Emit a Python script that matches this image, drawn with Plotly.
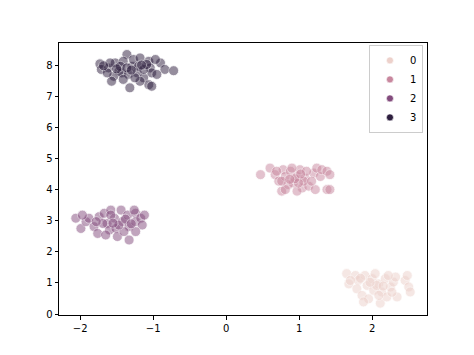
import numpy as np
import plotly.graph_objects as go

# ---- data ----
x0 = [1.65, 1.68, 1.77, 1.81, 1.79, 1.86, 1.90, 1.93, 1.95, 2.00, 2.02, 2.04, 2.09, 2.13, 2.11,
      2.18, 2.20, 2.25, 2.29, 2.32, 2.34, 2.45, 2.48, 2.50, 2.52, 1.70, 2.06, 1.88, 2.09, 2.22,
      1.97, 2.15, 1.84, 2.27]
y0 = [1.30, 0.97, 1.24, 1.08, 0.81, 0.60, 1.24, 0.92, 0.49, 1.14, 0.76, 1.30, 0.97, 0.71, 0.35,
      1.14, 0.55, 0.87, 1.03, 1.19, 0.55, 1.08, 1.24, 0.87, 0.71, 1.08, 0.92, 0.39, 0.60, 1.24,
      1.02, 0.90, 1.15, 0.70]

x1 = [0.47, 0.60, 0.67, 0.72, 0.76, 0.78, 0.81, 0.88, 0.92, 0.97, 1.01, 1.04, 1.08, 1.13, 1.20,
      1.24, 1.29, 1.31, 1.38, 1.42, 1.38, 1.42, 1.22, 0.85, 0.97, 0.69, 0.90, 1.10, 1.06, 1.17,
      0.81, 0.99, 0.76, 0.94, 1.02, 0.87]
y1 = [4.48, 4.69, 4.48, 4.27, 3.95, 4.64, 4.42, 4.59, 4.21, 4.42, 4.64, 4.05, 4.37, 4.11, 4.53,
      4.69, 4.42, 4.64, 4.59, 4.48, 4.00, 4.00, 4.00, 4.16, 3.95, 4.59, 4.69, 4.59, 4.27, 4.27,
      4.00, 4.21, 4.27, 4.35, 4.50, 4.33]

x2 = [-2.06, -1.99, -1.92, -1.88, -1.81, -1.76, -1.74, -1.67, -1.63, -1.58, -1.53, -1.60, -1.51,
      -1.44, -1.49, -1.42, -1.35, -1.33, -1.24, -1.24, -1.17, -1.12, -1.15, -1.24, -1.33, -1.65,
      -1.69, -1.40, -1.47, -1.26, -1.58, -1.78, -1.97, -1.55, -1.38, -1.30]
y2 = [3.08, 2.75, 2.97, 3.08, 2.81, 2.59, 3.13, 3.24, 2.91, 3.34, 3.08, 2.70, 2.75,
      3.34, 2.49, 2.97, 3.18, 2.81, 3.24, 2.97, 3.08, 3.18, 2.86, 2.65, 2.38, 2.54,
      2.91, 2.65, 2.86, 3.34, 3.18, 2.97, 3.18, 2.92, 3.05, 2.90]

x3 = [-1.73, -1.71, -1.61, -1.52, -1.47, -1.54, -1.57, -1.36, -1.41, -1.29, -1.27, -1.18, -1.06,
      -1.04, -1.02, -0.90, -0.84, -0.72, -1.43, -1.34, -1.22, -1.13, -1.20, -1.13, -1.32, -1.06,
      -1.02, -1.18, -1.63, -1.45, -0.97, -1.59, -1.25, -1.41, -1.36, -1.09, -0.95, -1.50, -1.30,
      -1.16, -1.68]
y3 = [8.04, 7.86, 7.91, 8.07, 7.80, 7.64, 7.48, 8.34, 8.12, 7.96, 8.18, 8.23, 8.12,
      7.91, 7.75, 8.07, 7.86, 7.82, 7.75, 7.70, 7.75, 7.59, 7.96, 7.86, 7.27, 7.37,
      7.32, 7.48, 7.75, 7.96, 8.18, 8.07, 7.59, 7.54, 7.91, 8.02, 7.70, 7.88, 7.84,
      8.00, 7.98]

hue_levels = [0, 1, 2, 3]
xs = [x0, x1, x2, x3]
ys = [y0, y1, y2, y3]
x_ticks = [-2, -1, 0, 1, 2]
y_ticks = [0, 1, 2, 3, 4, 5, 6, 7, 8]


# ---- seaborn default numeric hue palette ("ch:" cubehelix, light=.85, dark=.15) ----
def cubehelix(lam, start=0.0, rot=0.4, gamma=1.0, hue=0.8):
    xg = lam ** gamma
    a = hue * xg * (1 - xg) / 2
    phi = 2 * np.pi * (start / 3 + rot * lam)
    r = xg + a * (-0.14861 * np.cos(phi) + 1.78277 * np.sin(phi))
    g = xg + a * (-0.29227 * np.cos(phi) - 0.90649 * np.sin(phi))
    b = xg + a * (1.97294 * np.cos(phi))
    c = [int(round(255 * min(max(v, 0), 1))) for v in (r, g, b)]
    return "rgb(%d,%d,%d)" % tuple(c)


vmin, vmax = min(hue_levels), max(hue_levels)
colors = [cubehelix(0.85 - 0.7 * (h - vmin) / (vmax - vmin)) for h in hue_levels]

fig = go.Figure()
for h, xv, yv, c in zip(hue_levels, xs, ys, colors):
    fig.add_trace(go.Scatter(
        x=xv, y=yv, mode="markers", showlegend=False,
        marker=dict(size=10, color=c, opacity=0.5,
                    line=dict(color="white", width=0.8)),
        hoverinfo="skip"))
for h, c in zip(hue_levels, colors):
    fig.add_trace(go.Scatter(
        x=[None], y=[None], mode="markers", name=str(h),
        marker=dict(size=7, color=c, line=dict(color="white", width=0.6))))

axis_common = dict(
    showgrid=False, zeroline=False, showline=True, linecolor="black", linewidth=1,
    mirror=True, ticks="outside", ticklen=3.5, tickwidth=0.8, tickcolor="black",
    tickfont=dict(family="DejaVu Sans", size=10, color="black"),
)
fig.update_xaxes(range=[-2.29, 2.75], tickvals=x_ticks, **axis_common)
fig.update_yaxes(range=[-0.03, 8.71], tickvals=y_ticks, **axis_common)

fig.update_layout(
    width=474, height=355,
    margin=dict(l=51, r=55, t=35, b=48),
    plot_bgcolor="white", paper_bgcolor="white",
    font=dict(family="DejaVu Sans", size=10, color="black"),
    legend=dict(x=0.989, y=0.993, xanchor="right", yanchor="top",
                bgcolor="rgba(255,255,255,0.8)", bordercolor="#cccccc", borderwidth=1,
                font=dict(size=10), tracegroupgap=0, itemwidth=30),
)

fig.write_html("out.html")
